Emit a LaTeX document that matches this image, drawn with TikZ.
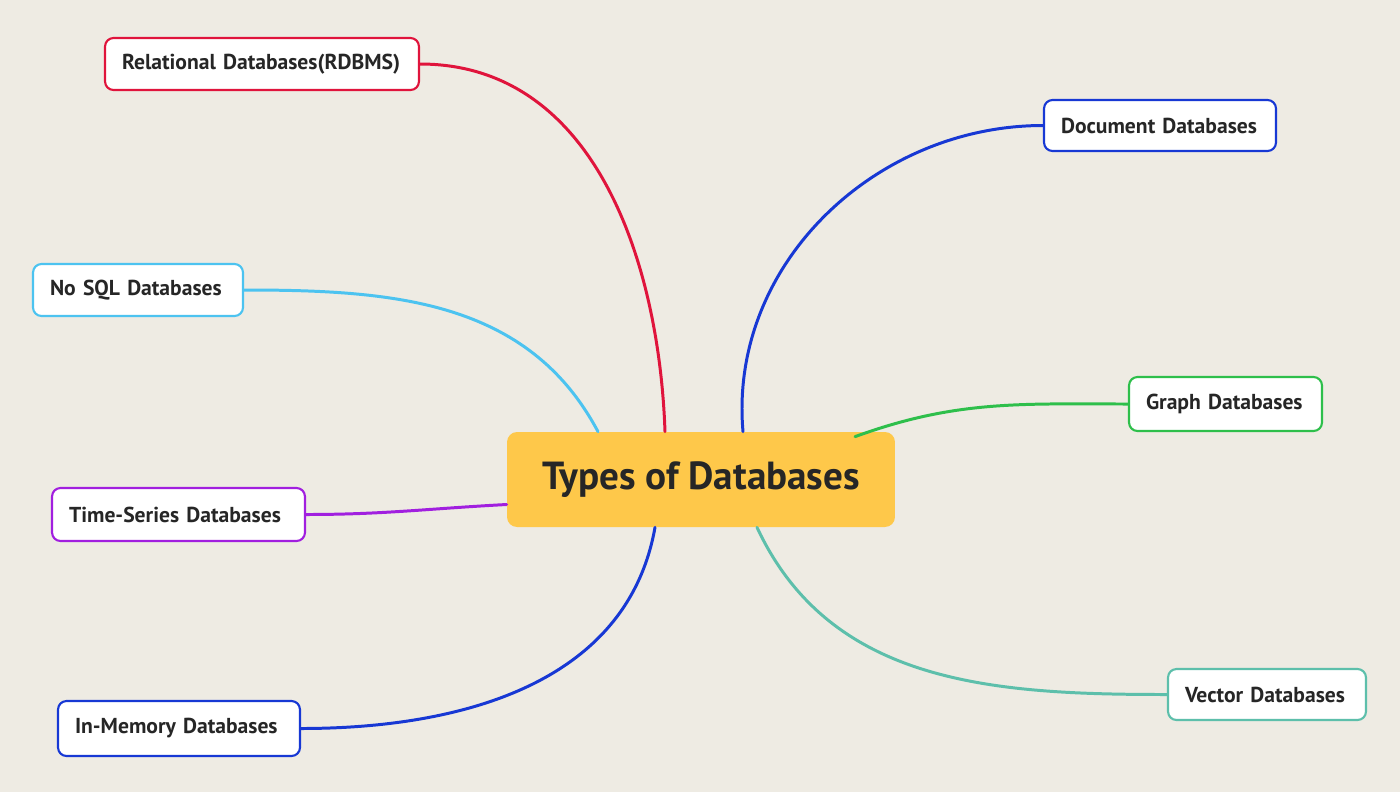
\documentclass[tikz,border=0pt]{standalone}
\usepackage{fontspec}
\setmainfont{PT Sans}
\usetikzlibrary{calc}
\definecolor{paper}{HTML}{EEEBE3}
\definecolor{hubfill}{HTML}{FEC84A}
\definecolor{ink}{HTML}{262626}
\definecolor{cred}{HTML}{E0143C}
\definecolor{cblue}{HTML}{1738D4}
\definecolor{csky}{HTML}{4CC3F0}
\definecolor{cgreen}{HTML}{2EBF4B}
\definecolor{cpurple}{HTML}{A11FDF}
\definecolor{cteal}{HTML}{5DBFAB}
\tikzset{
  leaf/.style={draw=#1,fill=white,line width=1.2pt,rounded corners=0.17cm,
    inner xsep=0.34cm,inner ysep=0pt,align=left,text=ink,font=\fontsize{12.3}{14}\selectfont\bfseries},
  link/.style={draw=#1,line width=1.7pt,line cap=round}
}
\begin{document}
\begin{tikzpicture}[x=0.02cm,y=-0.02cm,line join=round]
  \fill[paper] (0,0) rectangle (1400,792);
  \useasboundingbox (0,0) rectangle (1400,792);
  \node[fill=hubfill,rounded corners=0.2cm,minimum width=7.76cm,minimum height=1.9cm,
    text=ink,font=\fontsize{22.3}{26}\selectfont\bfseries] (hub) at (701,479.5) {Types of Databases};
  \node[leaf=cred,text width=5.6cm,minimum height=1.04cm] (rdbms) at (262,64) {Relational Databases(RDBMS)};
  \node[leaf=cblue,text width=3.96cm,minimum height=1.02cm] (docdb) at (1160,125.5) {Document Databases};
  \node[leaf=csky,text width=3.52cm,minimum height=1.04cm] (nosql) at (138,290) {No SQL Databases};
  \node[leaf=cgreen,text width=3.18cm,minimum height=1.08cm] (graphdb) at (1225.5,404) {Graph Databases};
  \node[leaf=cpurple,text width=4.38cm,minimum height=1.06cm] (tsdb) at (178.5,514.5) {Time-Series Databases};
  \node[leaf=cblue,text width=4.16cm,minimum height=1.1cm] (memdb) at (179,728.5) {In-Memory Databases};
  \node[leaf=cteal,text width=3.28cm,minimum height=1.02cm] (vecdb) at (1267,694.5) {Vector Databases};
  \draw[link=cred] ($(hub.north)+(-36,0)$) to[out=92,in=0] (rdbms.east);
  \draw[link=csky] ($(hub.north)+(-103,0)$) to[out=118,in=0] (nosql.east);
  \draw[link=cpurple] ($(hub.west)+(0,25)$) to[out=183,in=0] (tsdb.east);
  \draw[link=cblue] ($(hub.south)+(-46,0)$) to[out=-100,in=0] (memdb.east);
  \draw[link=cblue] ($(hub.north)+(42,0)$) to[out=95,in=180] (docdb.west);
  \draw[link=cgreen] ($(hub.north)+(154,5)$) to[out=20,in=180] (graphdb.west);
  \draw[link=cteal] ($(hub.south)+(56,0)$) to[out=-65,in=180] (vecdb.west);
\end{tikzpicture}
\end{document}
